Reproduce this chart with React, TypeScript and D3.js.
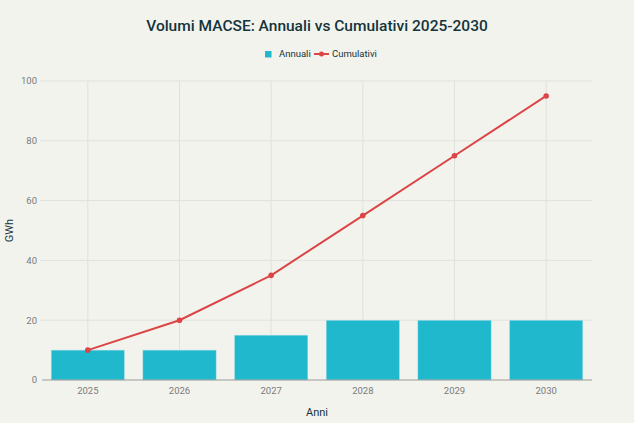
import { useEffect, useRef } from "react";
import * as d3 from "d3";

const years = ["2025", "2026", "2027", "2028", "2029", "2030"];
const annuali = [10, 10, 15, 20, 20, 20];
const cumulativi = [10, 20, 35, 55, 75, 95];
const yTicks = [0, 20, 40, 60, 80, 100];

const W = 634;
const H = 423;
const FONT = "Roboto, 'Open Sans', sans-serif";

export default function App() {
  const svgRef = useRef(null);

  useEffect(() => {
    const svg = d3.select(svgRef.current);
    svg.selectAll("*").remove();

    const left = 42;
    const right = 592;
    const top = 81;
    const bottom = 380;

    const x = d3.scaleBand().domain(years).range([left, right]).paddingInner(0.2).paddingOuter(0.1);
    const xc = (d) => x(d) + x.bandwidth() / 2;
    const y = d3.scaleLinear().domain([0, 100]).range([bottom, top]);

    svg.append("rect").attr("width", W).attr("height", H).attr("fill", "#f3f3ee");

    // grid
    svg
      .selectAll(".hg")
      .data(yTicks.filter((t) => t > 0))
      .join("line")
      .attr("x1", left - 2)
      .attr("x2", right)
      .attr("y1", (d) => y(d))
      .attr("y2", (d) => y(d))
      .attr("stroke", "#e1e1dc")
      .attr("stroke-width", 1);

    svg
      .selectAll(".vg")
      .data(years)
      .join("line")
      .attr("x1", xc)
      .attr("x2", xc)
      .attr("y1", top)
      .attr("y2", bottom)
      .attr("stroke", "#e1e1dc")
      .attr("stroke-width", 1);

    // bars
    svg
      .selectAll(".bar")
      .data(years)
      .join("rect")
      .attr("x", (d) => x(d))
      .attr("y", (d, i) => y(annuali[i]))
      .attr("width", x.bandwidth())
      .attr("height", (d, i) => bottom - y(annuali[i]))
      .attr("fill", "#1fb8cd")
      .attr("stroke", "#bfe3e8")
      .attr("stroke-width", 0.5);

    // x axis line
    svg
      .append("line")
      .attr("x1", left)
      .attr("x2", right)
      .attr("y1", bottom)
      .attr("y2", bottom)
      .attr("stroke", "#9a9a98")
      .attr("stroke-width", 1.2);

    // line
    const line = d3
      .line()
      .x((d, i) => xc(years[i]))
      .y((d) => y(d));

    svg
      .append("path")
      .datum(cumulativi)
      .attr("d", line)
      .attr("fill", "none")
      .attr("stroke", "#db4545")
      .attr("stroke-width", 2);

    svg
      .selectAll(".pt")
      .data(cumulativi)
      .join("circle")
      .attr("cx", (d, i) => xc(years[i]))
      .attr("cy", (d) => y(d))
      .attr("r", 2.8)
      .attr("fill", "#db4545");

    // tick labels
    svg
      .selectAll(".yt")
      .data(yTicks)
      .join("text")
      .attr("x", left - 5)
      .attr("y", (d) => y(d))
      .attr("dy", "0.35em")
      .attr("text-anchor", "end")
      .attr("font-family", FONT)
      .attr("font-size", 9.5)
      .attr("fill", "#7a7a7a")
      .text((d) => d);

    svg
      .selectAll(".xt")
      .data(years)
      .join("text")
      .attr("x", xc)
      .attr("y", bottom + 14)
      .attr("text-anchor", "middle")
      .attr("font-family", FONT)
      .attr("font-size", 9.5)
      .attr("fill", "#7a7a7a")
      .text((d) => d);

    // axis titles
    svg
      .append("text")
      .attr("x", (left + right) / 2)
      .attr("y", 416)
      .attr("text-anchor", "middle")
      .attr("font-family", FONT)
      .attr("font-size", 11)
      .attr("fill", "#13343b")
      .text("Anni");

    svg
      .append("text")
      .attr("transform", `translate(13, ${(top + bottom) / 2}) rotate(-90)`)
      .attr("text-anchor", "middle")
      .attr("font-family", FONT)
      .attr("font-size", 11)
      .attr("fill", "#13343b")
      .text("GWh");

    // title
    svg
      .append("text")
      .attr("x", 317)
      .attr("y", 31)
      .attr("text-anchor", "middle")
      .attr("font-family", FONT)
      .attr("font-size", 15.5)
      .attr("font-weight", 500)
      .attr("fill", "#13343b")
      .text("Volumi MACSE: Annuali vs Cumulativi 2025-2030");

    // legend
    const lg = svg.append("g").attr("font-family", FONT).attr("font-size", 9.5).attr("fill", "#13343b");
    lg.append("rect").attr("x", 265).attr("y", 51).attr("width", 6.5).attr("height", 6.5).attr("fill", "#1fb8cd");
    lg.append("text").attr("x", 279).attr("y", 54).attr("dy", "0.35em").text("Annuali");
    lg.append("line").attr("x1", 314).attr("x2", 329).attr("y1", 54).attr("y2", 54).attr("stroke", "#db4545").attr("stroke-width", 2);
    lg.append("circle").attr("cx", 321.5).attr("cy", 54).attr("r", 2.5).attr("fill", "#db4545");
    lg.append("text").attr("x", 332).attr("y", 54).attr("dy", "0.35em").text("Cumulativi");
  }, []);

  return (
    <div style={{ position: "absolute", left: 0, top: 0 }}>
      <svg ref={svgRef} width={W} height={H} style={{ display: "block" }} />
    </div>
  );
}
